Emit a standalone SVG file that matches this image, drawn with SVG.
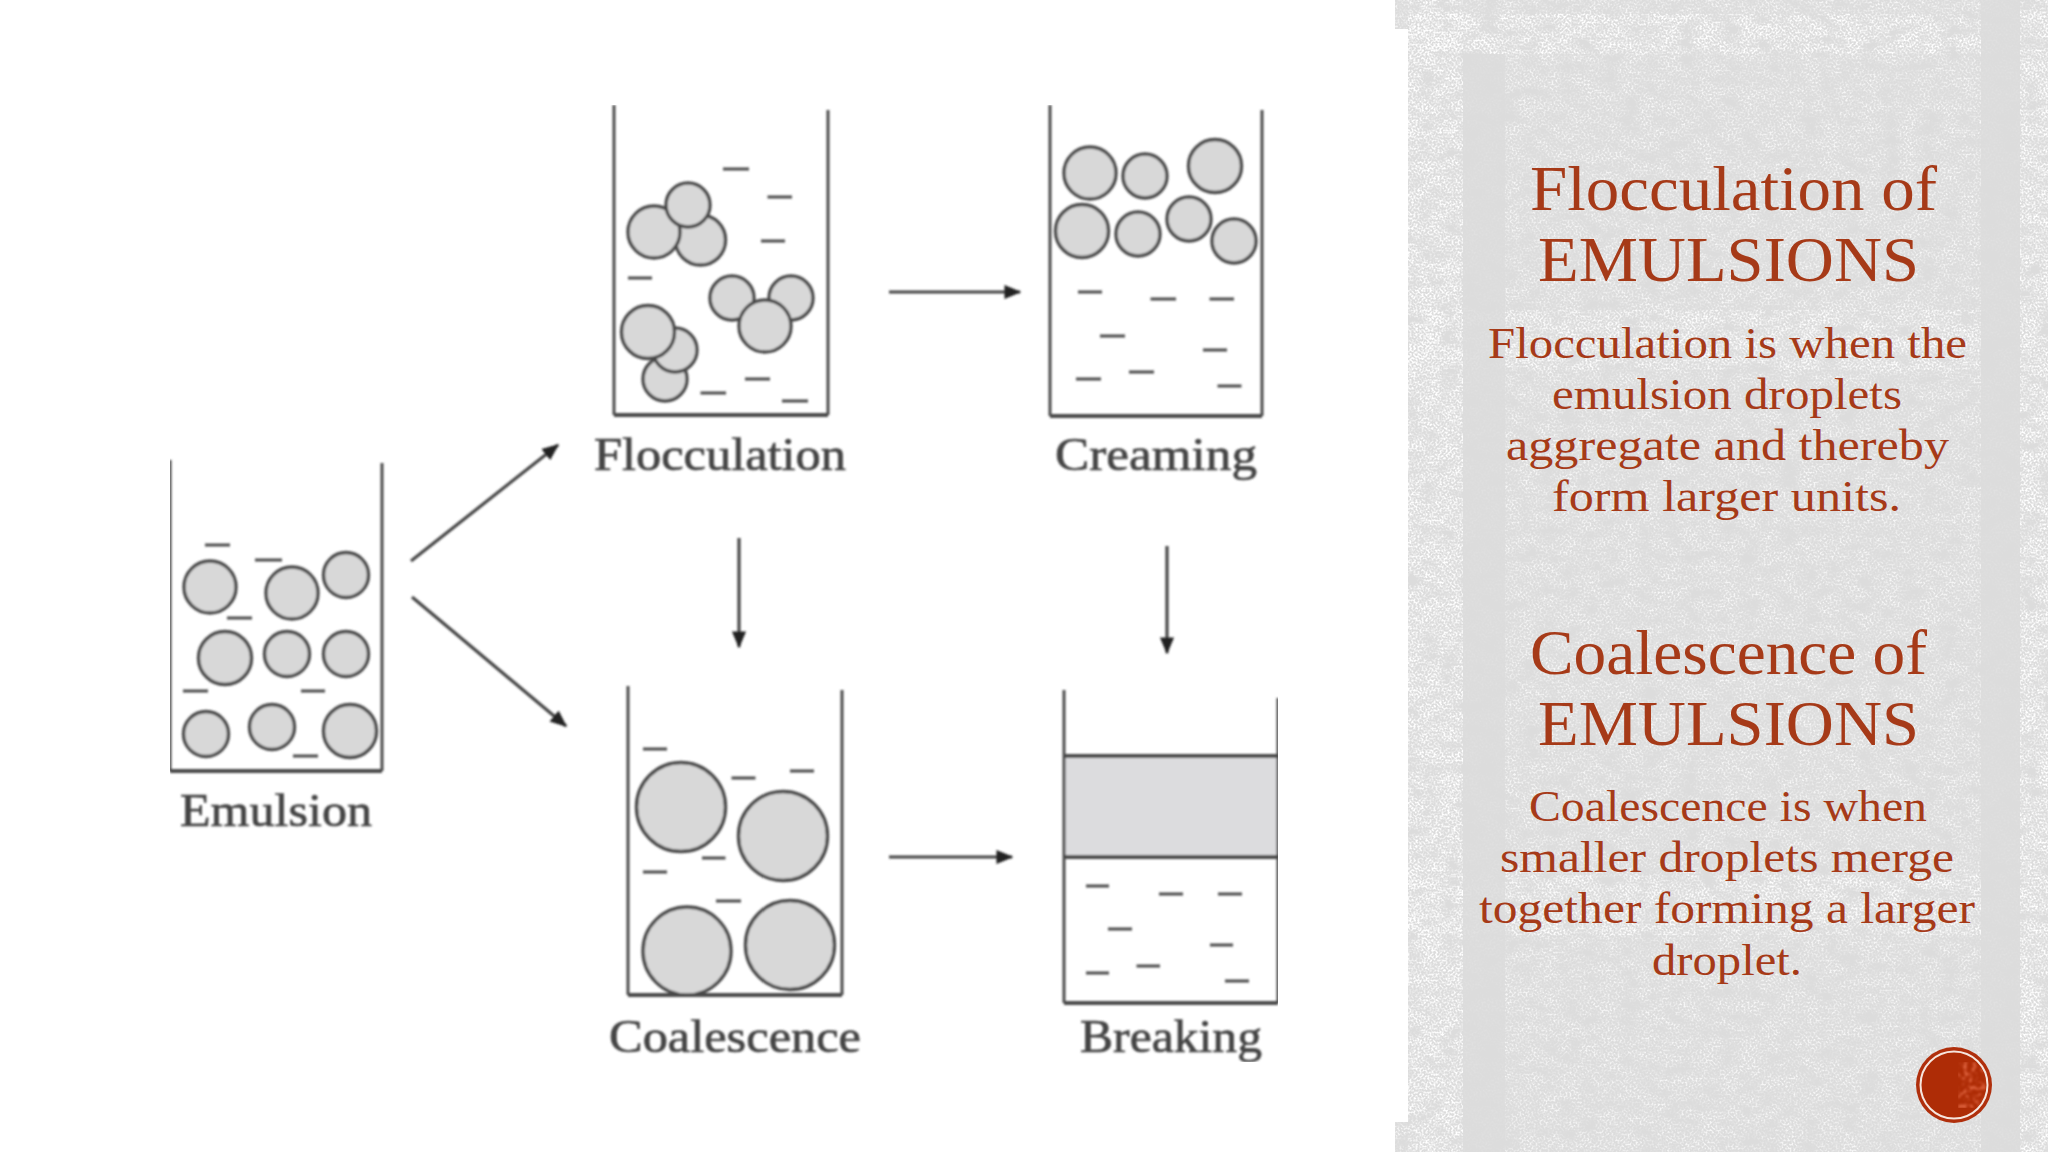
<svg xmlns="http://www.w3.org/2000/svg" width="2048" height="1152" viewBox="0 0 2048 1152">
<style>
.wall{fill:none;stroke:#4a4a4a;stroke-width:3}
.base{stroke-width:4}
.drop{fill:#d8d8d8;stroke:#484848;stroke-width:3.4}
.dash{fill:none;stroke:#4c4c4c;stroke-width:3.2}
.lab{font-family:"Liberation Serif",serif;font-size:47px;fill:#444;stroke:#444;stroke-width:.7}
.arrow{fill:none;stroke:#444;stroke-width:3.2;marker-end:url(#head)}
.tt{font-family:"Liberation Serif",serif;font-size:64px;fill:#a63a18}
.bd{font-family:"Liberation Serif",serif;font-size:45px;fill:#a63a18}
</style>
<defs>
<marker id="head" viewBox="0 0 12 10" refX="11" refY="5" markerWidth="17" markerHeight="16" markerUnits="userSpaceOnUse" orient="auto"><path d="M0 0L12 5L0 10Z" fill="#222"/></marker>
<filter id="soft" x="0" y="0" width="100%" height="100%"><feGaussianBlur stdDeviation="0.8"/></filter>
<filter id="speck" x="0" y="0" width="100%" height="100%" color-interpolation-filters="sRGB">
<feTurbulence type="fractalNoise" baseFrequency="0.5" numOctaves="2" seed="7" result="fine"/>
<feColorMatrix in="fine" type="matrix" values="0 0 0 0 1  0 0 0 0 1  0 0 0 0 1  3.4 0 0 0 -1.45" result="white"/>
<feTurbulence type="fractalNoise" baseFrequency="0.05 0.08" numOctaves="3" seed="3" result="big"/>
<feColorMatrix in="big" type="matrix" values="0 0 0 0 1  0 0 0 0 1  0 0 0 0 1  2.2 0 0 0 -0.45" result="mask"/>
<feComposite in="white" in2="mask" operator="in"/>
<feGaussianBlur stdDeviation="0.45"/>
</filter>
<filter id="redsp" x="0" y="0" width="100%" height="100%" color-interpolation-filters="sRGB">
<feTurbulence type="fractalNoise" baseFrequency="0.22" numOctaves="2" seed="5"/>
<feColorMatrix type="matrix" values="0 0 0 0 0.9  0 0 0 0 0.42  0 0 0 0 0.28  3 0 0 0 -1.4"/>
<feGaussianBlur stdDeviation="0.8"/>
</filter>
<clipPath id="redclip"><circle cx="1954" cy="1085" r="32"/></clipPath>
</defs>
<rect width="2048" height="1152" fill="#fff"/>
<g id="panel">
<rect x="1408" y="0" width="640" height="1152" fill="#dcdcdc"/>
<rect x="1395" y="0" width="13" height="29" fill="#dcdcdc"/>
<rect x="1395" y="1122" width="13" height="30" fill="#dcdcdc"/>
<rect x="1395" y="0" width="653" height="1152" filter="url(#speck)" opacity="0.75"/>
<rect x="1408" y="0" width="55" height="1152" filter="url(#speck)"/>
<rect x="1408" y="14" width="573" height="40" filter="url(#speck)"/>
<rect x="1408" y="310" width="573" height="60" filter="url(#speck)" opacity="0.8"/>
<rect x="1408" y="875" width="573" height="60" filter="url(#speck)" opacity="0.8"/>
<rect x="2020" y="0" width="28" height="1152" filter="url(#speck)"/>
<rect x="1463" y="54" width="42" height="1098" fill="#dcdcdc" opacity="0.85"/>
<rect x="1981" y="0" width="39" height="1152" fill="#dcdcdc" opacity="0.85"/>
</g>
<g id="panel-text">
<text class="tt" x="1530" y="210" textLength="407" lengthAdjust="spacingAndGlyphs">Flocculation of</text>
<text class="tt" x="1538" y="281" textLength="381" lengthAdjust="spacingAndGlyphs">EMULSIONS</text>
<text class="bd" x="1488" y="358" textLength="479" lengthAdjust="spacingAndGlyphs">Flocculation is when the</text>
<text class="bd" x="1552" y="409" textLength="350" lengthAdjust="spacingAndGlyphs">emulsion droplets</text>
<text class="bd" x="1506" y="460" textLength="443" lengthAdjust="spacingAndGlyphs">aggregate and thereby</text>
<text class="bd" x="1552" y="511" textLength="349" lengthAdjust="spacingAndGlyphs">form larger units.</text>
<text class="tt" x="1530" y="674" textLength="397" lengthAdjust="spacingAndGlyphs">Coalescence of</text>
<text class="tt" x="1538" y="745" textLength="381" lengthAdjust="spacingAndGlyphs">EMULSIONS</text>
<text class="bd" x="1529" y="821" textLength="398" lengthAdjust="spacingAndGlyphs">Coalescence is when</text>
<text class="bd" x="1500" y="872" textLength="454" lengthAdjust="spacingAndGlyphs">smaller droplets merge</text>
<text class="bd" x="1479" y="923" textLength="496" lengthAdjust="spacingAndGlyphs">together forming a larger</text>
<text class="bd" x="1652" y="975" textLength="150" lengthAdjust="spacingAndGlyphs">droplet.</text>
</g>
<g id="badge">
<circle cx="1954" cy="1085" r="38" fill="#b02f0c"/>
<circle cx="1954" cy="1085" r="33.5" fill="#ae2c06" stroke="#f6e6de" stroke-width="2"/>
<g clip-path="url(#redclip)"><rect x="1958" y="1062" width="30" height="46" filter="url(#redsp)"/></g>
</g>
<g filter="url(#soft)">
<g id="emulsion">
<path class="wall" d="M170 460V771"/><path class="wall" d="M382 463V771"/><path class="wall base" d="M170 771H382"/>
<circle class="drop" cx="210" cy="587" r="26"/><circle class="drop" cx="292" cy="593" r="26"/><circle class="drop" cx="346" cy="575" r="22.5"/>
<circle class="drop" cx="225" cy="658" r="26.5"/><circle class="drop" cx="287" cy="654" r="22.5"/><circle class="drop" cx="346" cy="654" r="22.5"/>
<circle class="drop" cx="206" cy="734" r="22.5"/><circle class="drop" cx="272" cy="727" r="22.5"/><circle class="drop" cx="350" cy="731" r="26.5"/>
<path class="dash" d="M205 545H230M255 560H282M227 618H252M183 691H208M301 691H325M293 756H318"/>
<text class="lab" x="180" y="826" textLength="192" lengthAdjust="spacingAndGlyphs">Emulsion</text>
</g>
<g id="flocculation">
<path class="wall" d="M614 105V415"/><path class="wall" d="M828 110V415"/><path class="wall base" d="M614 415H828"/>
<circle class="drop" cx="700.5" cy="240" r="25"/><circle class="drop" cx="654" cy="232" r="26"/><circle class="drop" cx="688" cy="205" r="22"/>
<circle class="drop" cx="732" cy="298" r="22"/><circle class="drop" cx="791" cy="298" r="22"/><circle class="drop" cx="765" cy="326" r="26"/>
<circle class="drop" cx="665" cy="379" r="22"/><circle class="drop" cx="675" cy="350" r="22"/><circle class="drop" cx="648" cy="332" r="26.5"/>
<path class="dash" d="M723 169H749M767.500 197H792M761 241H785M628 278H652M745 379H770M700.500 393H726M782 401H808"/>
<text class="lab" x="594" y="470" textLength="252" lengthAdjust="spacingAndGlyphs">Flocculation</text>
</g>
<g id="creaming">
<path class="wall" d="M1050 105V416"/><path class="wall" d="M1262 110V416"/><path class="wall base" d="M1050 416H1262"/>
<circle class="drop" cx="1090" cy="173" r="26"/><circle class="drop" cx="1145" cy="176" r="22"/><circle class="drop" cx="1215" cy="166" r="26.5"/>
<circle class="drop" cx="1082" cy="231" r="26.5"/><circle class="drop" cx="1138" cy="234" r="22"/><circle class="drop" cx="1189" cy="219" r="22"/><circle class="drop" cx="1234" cy="241" r="22"/>
<path class="dash" d="M1078 292H1102M1150.500 299H1176M1209.500 299H1234M1100 336H1125M1203 350H1227M1129 372H1154M1076 379H1101M1217.500 386H1241.500"/>
<text class="lab" x="1055" y="470" textLength="202" lengthAdjust="spacingAndGlyphs">Creaming</text>
</g>
<g id="coalescence">
<path class="wall" d="M628 686V995"/><path class="wall" d="M842 690V995"/><path class="wall base" d="M628 995H842"/>
<circle class="drop" cx="681" cy="807" r="44.500"/><circle class="drop" cx="783" cy="836" r="44.500"/><circle class="drop" cx="687" cy="951" r="44"/><circle class="drop" cx="790" cy="945" r="44.500"/>
<path class="dash" d="M643 749H667M731.500 778H755.500M790 771H814M702 858H725.500M643 872H667M716 901H741"/>
<text class="lab" x="609" y="1052" textLength="252" lengthAdjust="spacingAndGlyphs">Coalescence</text>
</g>
<g id="breaking">
<rect x="1064" y="756" width="214" height="101" fill="#dcdcde"/>
<path class="wall" d="M1064 690V1003"/><path class="wall" d="M1278 698V1003"/><path class="wall base" d="M1064 1003H1278M1064 756H1278M1064 857H1278"/>
<path class="dash" d="M1086 886H1109M1159 894H1183M1218 894H1242M1108 929H1132M1210 945H1233M1136.500 966H1160M1086 973H1109M1225 981H1249"/>
<text class="lab" x="1080" y="1052" textLength="182" lengthAdjust="spacingAndGlyphs">Breaking</text>
</g>
<g id="connectors">
<path class="arrow" d="M411 561L558 445"/>
<path class="arrow" d="M412 597L566 726"/>
<path class="arrow" d="M889 292H1020"/>
<path class="arrow" d="M889 857H1012"/>
<path class="arrow" d="M739 538V647"/>
<path class="arrow" d="M1167 546V653"/>
</g>
</g>
</svg>
